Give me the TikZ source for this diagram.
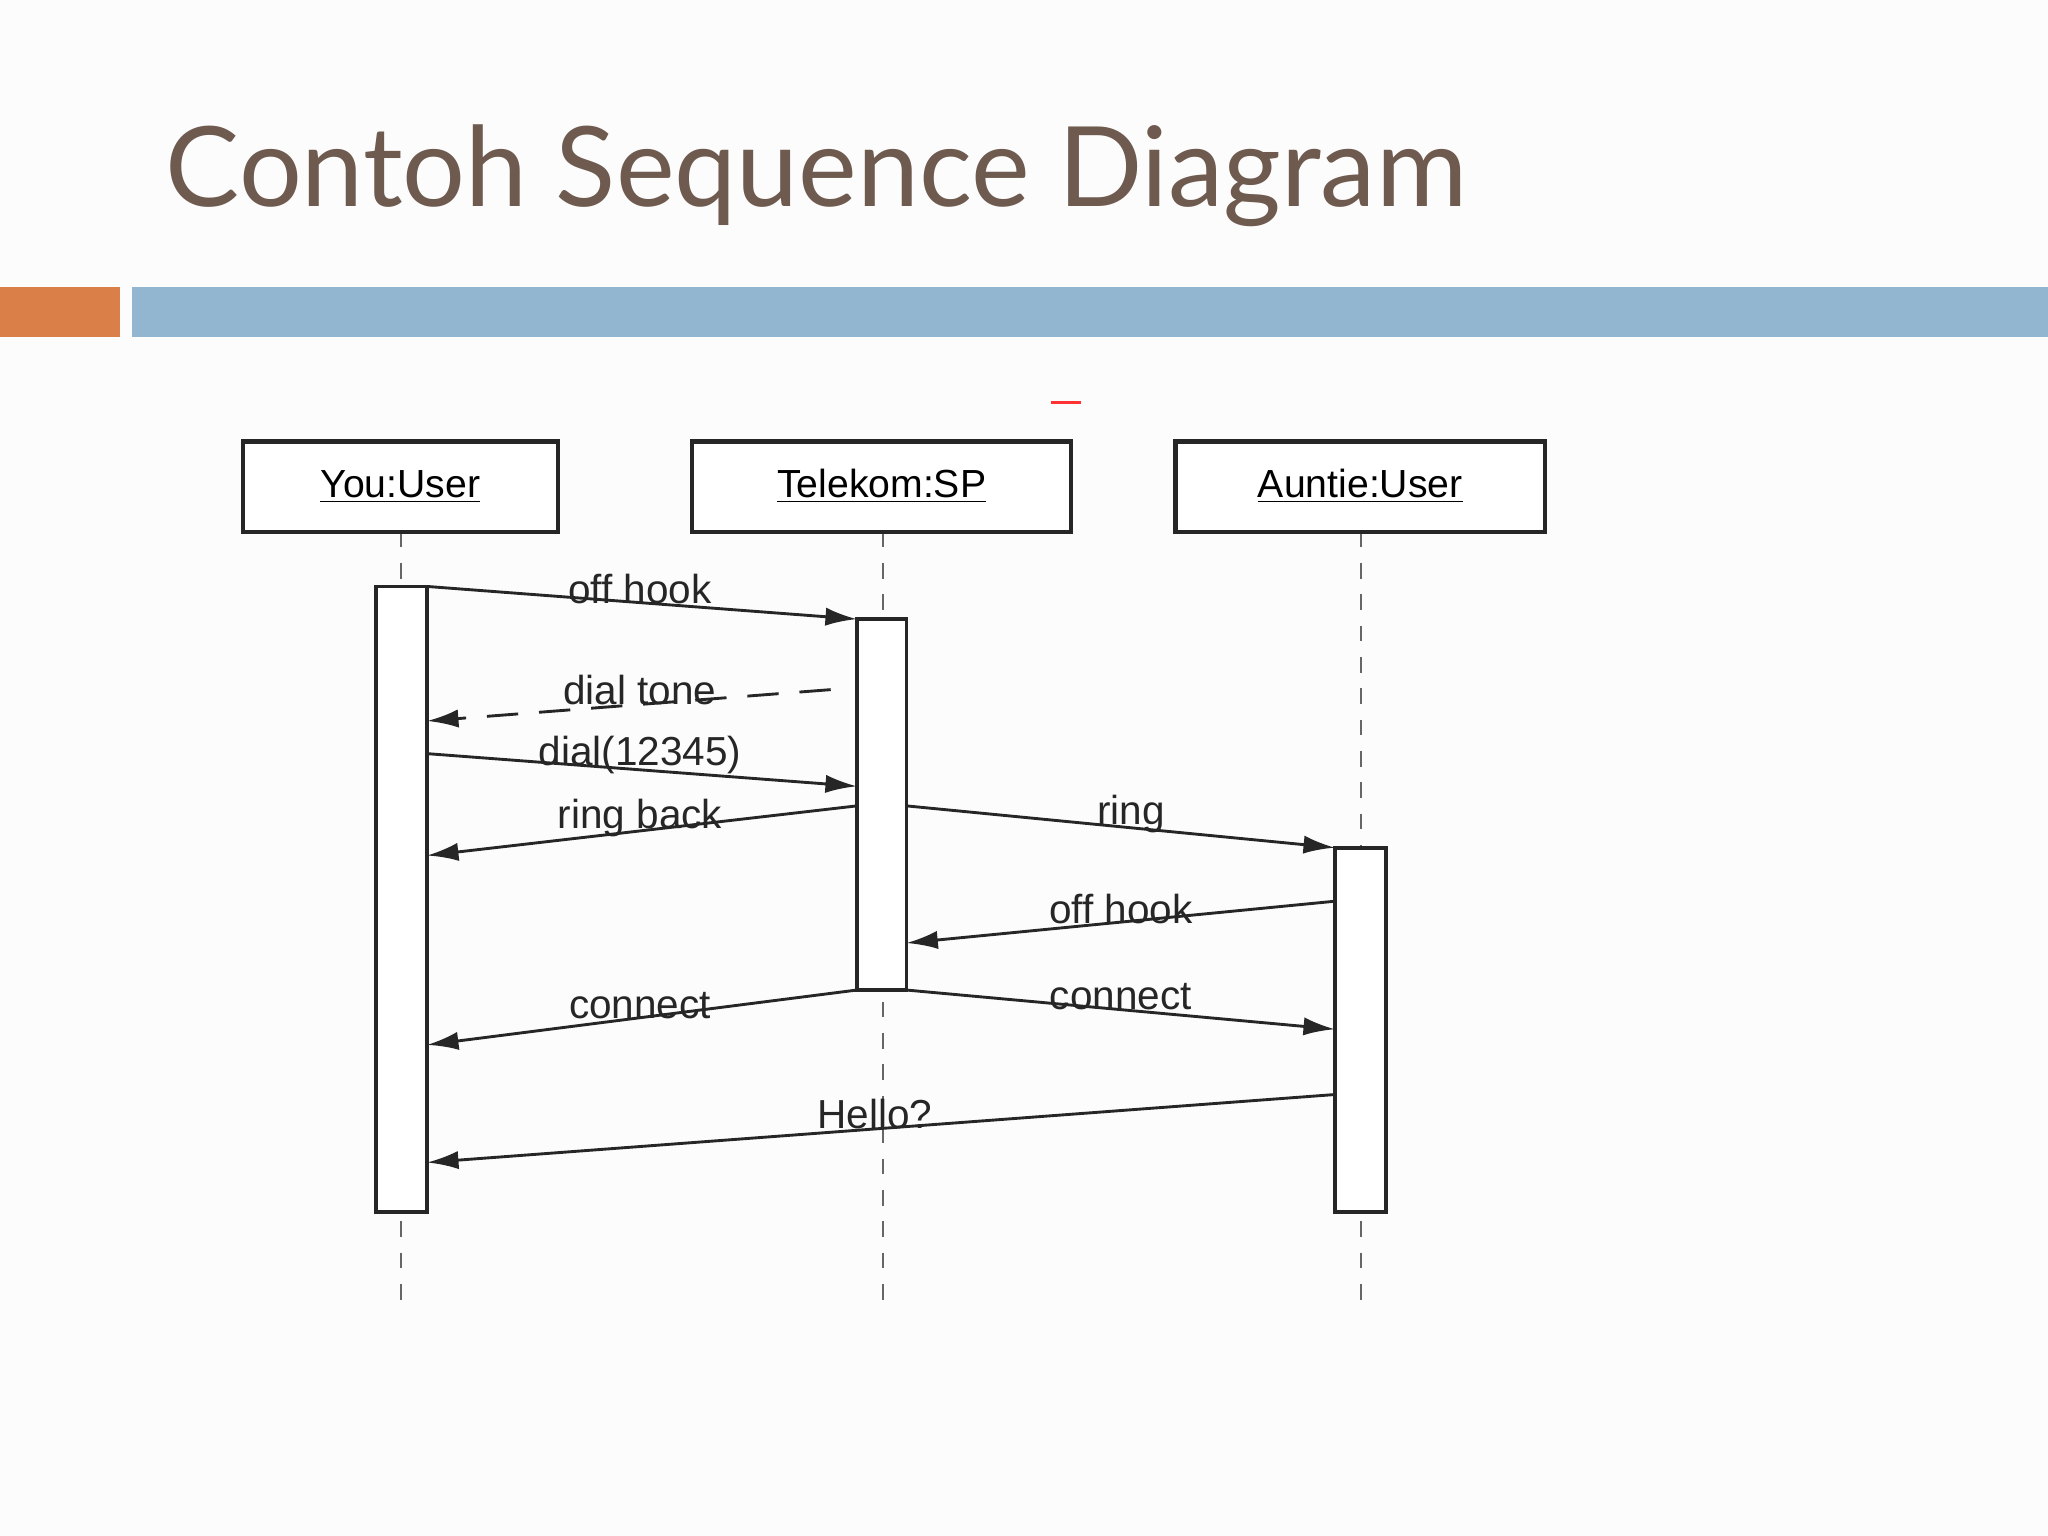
\documentclass[tikz,border=0pt]{standalone}
\usepackage{fontspec}
\setmainfont{Liberation Sans}
\newfontfamily\titlefont{Lato}
\usetikzlibrary{arrows.meta}
\definecolor{titlec}{HTML}{6E5A4F}
\definecolor{barorange}{HTML}{DB7F48}
\definecolor{barblue}{HTML}{93B6D0}
\begin{document}
\begin{tikzpicture}[x=0.5pt,y=-0.5pt,
  obj/.style={draw=black!85,line width=1.6pt,minimum width=#1*0.5pt,minimum height=34.5pt,inner sep=0pt,font=\fontsize{15}{18}\selectfont},
  act/.style={draw=black!85,fill=white,line width=1.4pt},
  life/.style={black!60,line width=1pt,dash pattern=on 6pt off 6pt},
  msg/.style={-{Latex[length=12pt,width=7pt]},line width=1.1pt,black!85},
  lbl/.style={font=\fontsize{15.5}{18}\selectfont,text=black!85,inner sep=1pt}]
\useasboundingbox (0,0) rectangle (1568,1176);
\fill[white!98!gray] (0,0) rectangle (1568,1176);
\node[anchor=base west,text=titlec,font=\titlefont\fontsize{42.5}{50}\selectfont] (title) at (120,158) {Contoh Sequence Diagram};
\fill[barorange] (0,220) rectangle (92,258);
\fill[barblue] (101,220) rectangle (1568,258);
\draw[red!80,line width=1pt] (805,308) -- (828,308);
% lifelines
\draw[life] (307,407) -- (307,1000);
\draw[life] (676,407) -- (676,1000);
\draw[life] (1042,407) -- (1042,1000);
% objects
\node[obj=241,fill=white] (you) at (306.5,372.5) {\underline{You:User}};
\node[obj=290,fill=white] (tel) at (675,372.5) {\underline{Telekom:SP}};
\node[obj=283,fill=white] (aun) at (1041.5,372.5) {\underline{Auntie:User}};
% activations
\draw[act] (288,449) rectangle (327,928);
\draw[act] (656,474) rectangle (694,758);
\draw[act] (1022,649) rectangle (1061,928);
% endpoints
\coordinate (a1) at (327,449); \coordinate (b1) at (656,474);
\coordinate (a2) at (636,528); \coordinate (b2) at (327,552);
\coordinate (a3) at (327,577); \coordinate (b3) at (656,602);
\coordinate (a4) at (656,617); \coordinate (b4) at (327,655);
\coordinate (a5) at (694,617); \coordinate (b5) at (1022,649);
\coordinate (a6) at (1022,690); \coordinate (b6) at (694,722);
\coordinate (a7) at (656,758); \coordinate (b7) at (327,800);
\coordinate (a8) at (694,758); \coordinate (b8) at (1022,788);
\coordinate (a9) at (1022,838); \coordinate (b9) at (327,890);
\draw[msg] (a1) -- (b1);
\draw[msg,dash pattern=on 12pt off 8pt] (a2) -- (b2);
\draw[msg] (a3) -- (b3);
\draw[msg] (a4) -- (b4);
\draw[msg] (a5) -- (b5);
\draw[msg] (a6) -- (b6);
\draw[msg] (a7) -- (b7);
\draw[msg] (a8) -- (b8);
\draw[msg] (a9) -- (b9);
\node[lbl] (l1) at (490,451) {off hook};
\node[lbl] (l2) at (490,528) {dial tone};
\node[lbl] (l3) at (490,578) {dial(12345)};
\node[lbl] (l4) at (490,626) {ring back};
\node[lbl] (l5) at (866,623) {ring};
\node[lbl] (l6) at (858,696) {off hook};
\node[lbl] (l7) at (490,770) {connect};
\node[lbl] (l8) at (858,763) {connect};
\node[lbl] (l9) at (670,853) {Hello?};
\end{tikzpicture}
\end{document}
